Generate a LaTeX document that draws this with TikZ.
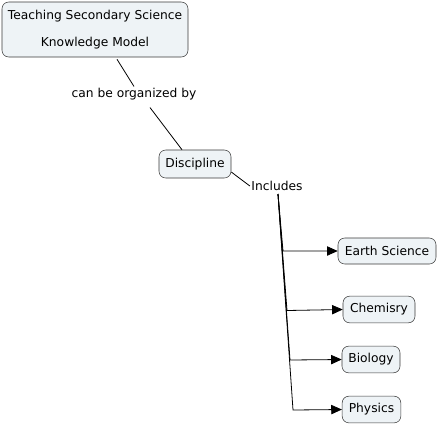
\documentclass[tikz,border=0pt]{standalone}
\usepackage{fontspec}
\setmainfont{DejaVu Sans}
\usepackage{tikz}
\usetikzlibrary{arrows.meta}
\usetikzlibrary{positioning}
\definecolor{cm-fill}{HTML}{EEF3F6}
\definecolor{cm-line}{HTML}{3A3A3A}

\begin{document}
\begin{tikzpicture}[
    x=0.75pt, y=-0.75pt,
    concept/.style={draw=cm-line, fill=cm-fill, rounded corners=5pt, align=center, font=\fontsize{9.2}{11}\selectfont, inner sep=0pt},
    linkword/.style={font=\fontsize{9.2}{11}\selectfont, inner sep=1pt},
    conn/.style={draw=black, line width=0.6pt},
    arr/.style={-{Triangle[length=8pt,width=7pt]}, draw=black, line width=0.6pt}
]
\useasboundingbox (0,0) rectangle (438,426);

% =========================================================================
% CONCEITO RAIZ
% =========================================================================
\node[concept, minimum width=139.5pt, minimum height=41.25pt] (root) at (95, 29.5) {Teaching Secondary Science\\[9pt]Knowledge Model};
\node[linkword] (organized) at (134, 94) {can be organized by};
\node[concept, minimum width=54pt, minimum height=21pt] (discipline) at (195, 164) {Discipline};

\draw[conn] (root.south) ++(22,2) -- (organized.north);
\draw[conn] (organized.south) ++(16,6) -- ([xshift=-9.75pt]discipline.north);

% =========================================================================
% LIGAÇÃO "Includes"
% =========================================================================
\node[linkword] (includes) at (277, 186) {Includes};
\draw[conn] (discipline.east) ++(0,8) -- (includes.west);

% =========================================================================
% DISCIPLINAS
% =========================================================================
\node[concept, minimum width=73.5pt, minimum height=19.5pt] (earth) at (387, 251) {Earth Science};
\node[concept, minimum width=54pt, minimum height=20pt] (chem) at (379, 309.5) {Chemisry};
\node[concept, minimum width=43.5pt, minimum height=20pt] (bio) at (371, 359.5) {Biology};
\node[concept, minimum width=44pt, minimum height=20pt] (phys) at (371.5, 409.5) {Physics};

\coordinate (src) at (278, 194);
\coordinate (kEarth) at (283, 251);
\coordinate (kChem) at (287, 310.5);
\coordinate (kBio) at (290, 360);
\coordinate (kPhys) at (293, 410);

\draw[arr] (src) -- (kEarth) -- (earth.west);
\draw[arr] (src) -- (kChem) -- (chem.west);
\draw[arr] (src) -- (kBio) -- (bio.west);
\draw[arr] (src) -- (kPhys) -- (phys.west);

\end{tikzpicture}
\end{document}
